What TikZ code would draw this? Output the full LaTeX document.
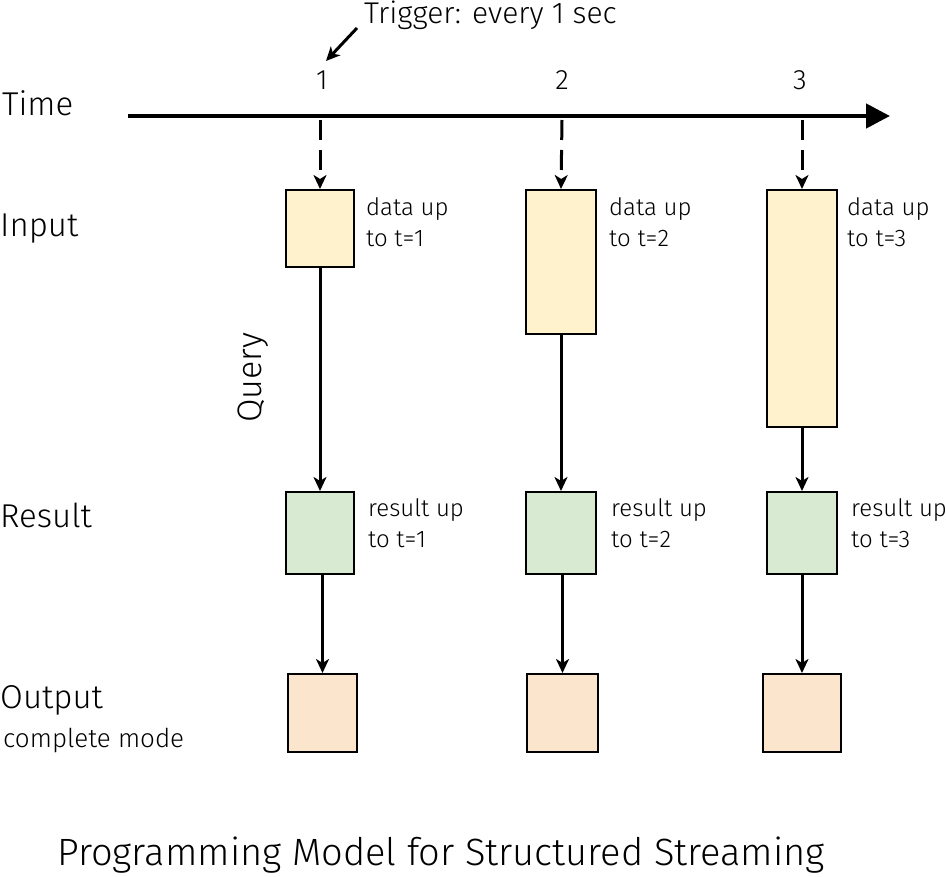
\documentclass[tikz,border=0pt]{standalone}
\usepackage{fontspec}
\setmainfont{Fira Sans Light}
\usepackage{tikz}
\usetikzlibrary{arrows.meta, positioning}
\definecolor{inputfill}{HTML}{FFF2CC}
\definecolor{resultfill}{HTML}{D9EAD3}
\definecolor{outputfill}{HTML}{FCE5CD}
\tikzstyle{inbox} = [rectangle, inner sep=0pt, minimum width=68pt, line width=2pt, draw=black, fill=inputfill]
\tikzstyle{resbox} = [rectangle, inner sep=0pt, minimum width=68pt, minimum height=82pt, line width=2pt, draw=black, fill=resultfill]
\tikzstyle{outbox} = [rectangle, inner sep=0pt, minimum width=69pt, minimum height=78pt, line width=2pt, draw=black, fill=outputfill]
\tikzstyle{rowlabel} = [anchor=west, inner sep=0pt, font=\fontsize{33}{38}\selectfont]
\tikzstyle{note} = [anchor=north west, inner sep=0pt, align=left, font=\fontsize{24}{31}\selectfont]
\tikzstyle{tick} = [inner sep=0pt, font=\fontsize{28}{32}\selectfont]
\tikzstyle{line} = [line width=3pt, -{Stealth[length=14pt, width=13pt, inset=4pt]}]
\tikzstyle{dashline} = [line, dash pattern=on 20pt off 10pt]

\begin{document}
\begin{tikzpicture}[x=1pt, y=-1pt]
                  \useasboundingbox (0,0) rectangle (946,877);
                  % time axis
                  \node (time) [rowlabel] at (2,103) {Time};
                  \coordinate (axis-start) at (128,116);
                  \coordinate (axis-end) at (890,116);
                  \draw [line width=4.5pt, -{Triangle[length=24pt, width=24pt]}] (axis-start) -- (axis-end);
                  \node (t1) [tick] at (322,80) {1};
                  \node (t2) [tick] at (562,80) {2};
                  \node (t3) [tick] at (800,80) {3};
                  \node (trigger) [anchor=west, inner sep=0pt, font=\fontsize{30}{34}\selectfont] at (364,15) {Trigger: every 1 sec};
                  \coordinate (trig-tail) at (357,28);
                  \coordinate (trig-head) at (326,61);
                  \draw [line width=3pt, -{Stealth[length=14pt, width=13pt, inset=4pt]}] (trig-tail) -- (trig-head);
                  \coordinate (tick1) at (320,120);
                  \coordinate (tick2) at (562,120);
                  \coordinate (tick3) at (802,120);

                  % row labels
                  \node (input) [rowlabel] at (0,229) {Input};
                  \node (result) [rowlabel] at (0,515) {Result};
                  \node (output) [rowlabel] at (0,700) {Output};
                  \node (mode) [rowlabel, font=\fontsize{26}{30}\selectfont] at (3,741) {complete mode};
                  \node (query) [inner sep=0pt, rotate=90, font=\fontsize{34}{38}\selectfont] at (253,378) {Query};

                  % input boxes
                  \node (in1) [inbox, minimum height=77pt] at (320,228.5) {};
                  \node (in2) [inbox, minimum width=70pt, minimum height=144pt] at (561,262) {};
                  \node (in3) [inbox, minimum width=70pt, minimum height=237pt] at (802,308.5) {};
                  \node [note] at (366,197) {data up\\to t=1};
                  \node [note] at (609,197) {data up\\to t=2};
                  \node [note] at (847,197) {data up\\to t=3};

                  % result boxes
                  \node (res1) [resbox] at (320,533) {};
                  \node (res2) [resbox, minimum width=70pt] at (561,533) {};
                  \node (res3) [resbox, minimum width=70pt] at (802,533) {};
                  \node [note] at (368,498) {result up\\to t=1};
                  \node [note] at (611,498) {result up\\to t=2};
                  \node [note] at (851,498) {result up\\to t=3};

                  % output boxes
                  \node (out1) [outbox] at (322.5,713) {};
                  \node (out2) [outbox, minimum width=71pt] at (562.5,713) {};
                  \node (out3) [outbox, minimum width=78pt] at (802,713) {};

                  \node (title) [inner sep=0pt, font=\fontsize{38}{42}\selectfont] at (441,855) {Programming Model for Structured Streaming};

                  \draw [dashline] (tick1) -- (in1.north);
                  \draw [dashline] (tick2) -- (in2.north);
                  \draw [dashline] (tick3) -- (in3.north);
                  \draw [line] (in1.south) -- (res1.north);
                  \draw [line] (in2.south) -- (res2.north);
                  \draw [line] (in3.south) -- (res3.north);
                  \draw [line] (res1.south -| out1.north) -- (out1.north);
                  \draw [line] (res2.south -| out2.north) -- (out2.north);
                  \draw [line] (res3.south) -- (out3.north);
              \end{tikzpicture}
\end{document}
